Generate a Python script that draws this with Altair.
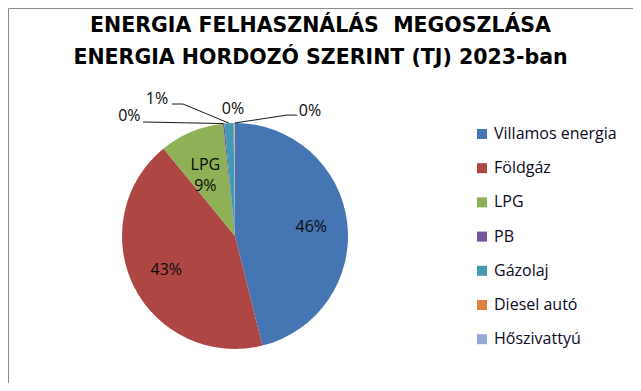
import math
import altair as alt
import pandas as pd

# ---- data ----
categories = ["Villamos energia", "Földgáz", "LPG", "PB", "Gázolaj", "Diesel autó", "Hőszivattyú"]
values = [46.1, 43.0, 9.2, 0.2, 1.3, 0.1, 0.1]
palette = ["#4675B3", "#AE4743", "#8EB056", "#72569A", "#4299B3", "#DC843F", "#93A9D3"]

# ---- layout (not data) ----
W, H = 625, 375
R = 113.0                       # pie radius in px
CX, CY = 227.0, 228.0           # pie centre in view px
inner_r = 0.68
with_name = {"LPG"}
# outside label centres and leader bends, in pie-radius units
outside = {
    "PB": {"label": (-0.935, 1.062), "leader": [(-0.814, 1.009)]},
    "Gázolaj": {"label": (-0.69, 1.212), "leader": [(-0.46, 1.168), (-0.558, 1.168)]},
    "Diesel autó": {"label": (-0.018, 1.124), "leader": []},
    "Hőszivattyú": {"label": (0.664, 1.106), "leader": [(0.46, 1.07), (0.55, 1.07)]},
}

xs = alt.Scale(domain=[-CX / R, (W - CX) / R], nice=False, zero=False)
ys = alt.Scale(domain=[-(H - CY) / R, CY / R], nice=False, zero=False)

total = sum(values)
pie_rows, label_rows, leader_rows = [], [], []
cum = 0.0
for i, (c, v) in enumerate(zip(categories, values)):
    mid = (cum + v / 2) / total * 2 * math.pi
    cum += v
    pct = f"{round(v / total * 100)}%"
    pie_rows.append({"category": c, "value": v, "order": i})
    ex, ey = math.sin(mid), math.cos(mid)
    if c in outside:
        lx, ly = outside[c]["label"]
        label_rows.append({"category": c, "x": lx, "y": ly, "text": pct})
        pts = outside[c]["leader"]
        if pts:
            seq = [(ex, ey)] + pts
            for j, (px, py) in enumerate(seq):
                leader_rows.append({"category": c, "x": px, "y": py, "seq": j})
    else:
        txt = f"{c}\n{pct}" if c in with_name else pct
        label_rows.append({"category": c, "x": inner_r * ex, "y": inner_r * ey, "text": txt})

pie_df = pd.DataFrame(pie_rows)
label_df = pd.DataFrame(label_rows)
leader_df = pd.DataFrame(leader_rows)

FONT = "Open Sans"

pie = alt.Chart(pie_df).mark_arc(radius=R).encode(
    theta=alt.Theta("value:Q", stack=True),
    order=alt.Order("order:Q"),
    color=alt.Color(
        "category:N",
        scale=alt.Scale(domain=categories, range=palette),
        legend=alt.Legend(
            orient="none", legendX=466, legendY=118, title=None,
            symbolType="square", symbolSize=100, symbolStrokeWidth=0,
            labelFont=FONT, labelFontSize=16, labelColor="#0A0A1E",
            rowPadding=18.2, labelOffset=4,
        ),
    ),
    x=alt.XDatum(0, type="quantitative", scale=xs, axis=None),
    y=alt.YDatum(0, type="quantitative", scale=ys, axis=None),
)

lines = alt.Chart(leader_df).mark_line(color="#1A1A1A", strokeWidth=1).encode(
    x=alt.X("x:Q", scale=xs, axis=None),
    y=alt.Y("y:Q", scale=ys, axis=None),
    detail="category:N",
    order="seq:Q",
)

texts = alt.Chart(label_df).mark_text(
    font=FONT, fontSize=16, color="#0A0A0A", lineBreak="\n", lineHeight=21
).encode(
    x=alt.X("x:Q", scale=xs, axis=None),
    y=alt.Y("y:Q", scale=ys, axis=None),
    text="text:N",
)

chart = alt.layer(pie, lines, texts).properties(
    width=W, height=H, padding=0, autosize="none",
    title=alt.TitleParams(
        ["ENERGIA FELHASZNÁLÁS\u00a0 MEGOSZLÁSA", "ENERGIA HORDOZÓ SZERINT (TJ) 2023-ban"],
        anchor="middle", font="DejaVu Sans", fontSize=20.5, fontWeight="bold",
        color="#000000", lineHeight=32, offset=-60,
    ),
).configure_view(stroke="#8C8C8C", strokeWidth=1)

chart.save("out.html", embed_options={"renderer": "svg", "actions": False})
